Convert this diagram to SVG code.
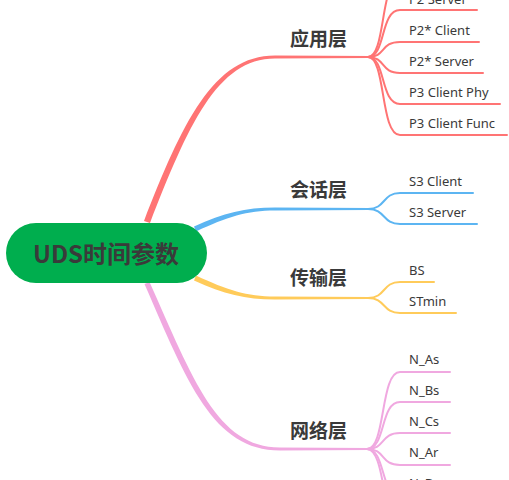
<svg xmlns="http://www.w3.org/2000/svg" width="509" height="480" viewBox="0 0 509 480">
<style>
.lbl{font-family:"Noto Sans CJK SC","Noto Sans",sans-serif;font-weight:bold;font-size:19px;fill:#3a3a3a;text-anchor:middle}
.leaf{font-family:"Noto Sans","Noto Sans CJK SC",sans-serif;font-size:13px;fill:#3a3a3a}
.sub{fill:none;stroke-width:2;stroke-linecap:round}
.r{stroke:#FF7474}.b{stroke:#5CB5F2}.y{stroke:#FFCB5A}.p{stroke:#F0A8E0}
</style>
<rect width="509" height="480" fill="#FFFFFF"/>
<g id="connectors">
<path d="M144,221 C182,124 213,55.5 275,55.5 L370,56 L370,58 L275,58.5 C217,58.5 188,126 150,223 Z" fill="#FF7474"/>
<path d="M194,226.5 C224,213 245,207.5 275,207.5 L370,208 L370,210 L275,210.5 C247,210.5 227,217 196,231.5 Z" fill="#5CB5F2"/>
<path d="M196,275.5 C227,290 247,296.5 275,296.5 L370,297 L370,299 L275,299.5 C245,299.5 224,294 194,280.5 Z" fill="#FFCB5A"/>
<path d="M144.5,284 C187,382 213,450.5 280,450.5 L370,450 L370,448 L280,447.5 C217,447.5 193,379 149.5,282 Z" fill="#F0A8E0"/>
<g class="sub r">
<path d="M368,57 C386,57 380,-21 400,-21 L470,-21"/>
<path d="M368,57 C386,57 380,10 400,10 L477,10"/>
<path d="M368,57 C386,57 380,42 400,42 L479,42"/>
<path d="M368,57 C386,57 380,73 400,73 L483,73"/>
<path d="M368,57 C386,57 380,104 400,104 L500,104"/>
<path d="M368,57 C386,57 380,135 400,135 L507,135"/>
</g>
<g class="sub b">
<path d="M368,209 C386,209 382,193 400,193 L473,193"/>
<path d="M368,209 C386,209 382,224 400,224 L477,224"/>
</g>
<g class="sub y">
<path d="M368,298 C386,298 382,282 400,282 L434,282"/>
<path d="M368,298 C386,298 382,313 400,313 L456,313"/>
</g>
<g class="sub p">
<path d="M367,449 C386,449 380,372 400,372 L450,372"/>
<path d="M367,449 C386,449 380,402 400,402 L450,402"/>
<path d="M367,449 C386,449 380,433 400,433 L450,433"/>
<path d="M367,449 C386,449 380,465 400,465 L450,465"/>
<path d="M367,449 C386,449 380,496 400,496 L450,496"/>
<path d="M367,449 C386,449 382,527 400,527 L450,527"/>
</g>
</g>
<g id="root">
<rect x="6" y="223" width="201" height="60" rx="30" fill="#00AE4E"/>
<text x="106" y="263" font-family="'Noto Sans CJK SC','Noto Sans',sans-serif" font-weight="bold" font-size="24" fill="#3a3a3a" text-anchor="middle">UDS时间参数</text>
</g>
<g id="app"><text class="lbl" x="318.5" y="46">应用层</text></g>
<g id="session"><text class="lbl" x="318.5" y="197">会话层</text></g>
<g id="transport"><text class="lbl" x="318.5" y="285">传输层</text></g>
<g id="network"><text class="lbl" x="318.5" y="438">网络层</text></g>
<g id="p2server"><text class="leaf" x="409" y="4">P2 Server</text></g>
<g id="p2sclient"><text class="leaf" x="409" y="35">P2* Client</text></g>
<g id="p2sserver"><text class="leaf" x="409" y="66">P2* Server</text></g>
<g id="p3phy"><text class="leaf" x="409" y="97">P3 Client Phy</text></g>
<g id="p3func"><text class="leaf" x="409" y="128">P3 Client Func</text></g>
<g id="s3client"><text class="leaf" x="409" y="186">S3 Client</text></g>
<g id="s3server"><text class="leaf" x="409" y="217">S3 Server</text></g>
<g id="bs"><text class="leaf" x="409" y="275">BS</text></g>
<g id="stmin"><text class="leaf" x="409" y="306">STmin</text></g>
<g id="nas"><text class="leaf" x="409" y="364">N_As</text></g>
<g id="nbs"><text class="leaf" x="409" y="395">N_Bs</text></g>
<g id="ncs"><text class="leaf" x="409" y="426">N_Cs</text></g>
<g id="nar"><text class="leaf" x="409" y="457">N_Ar</text></g>
<g id="nbr"><text class="leaf" x="409" y="488">N_Br</text></g>
</svg>
